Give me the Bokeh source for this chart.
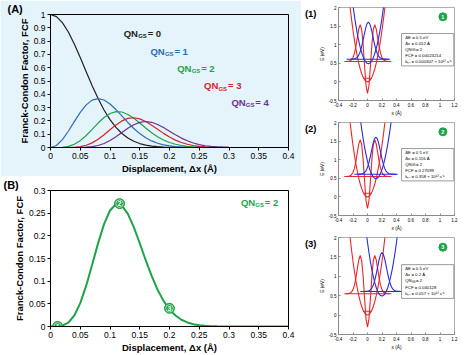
from bokeh.plotting import figure
from bokeh.layouts import row, column
from bokeh.models import Label, NumeralTickFormatter, FixedTicker, Range1d, LinearAxis
from bokeh.core.properties import value
from bokeh.embed import file_html
from bokeh.resources import INLINE

FONT = "Liberation Sans"
BG = "#e5f3fb"
QN_COLORS = ["#231f20", "#2c6db4", "#1fa34a", "#d2232a", "#6a3291"]
GREEN = "#1fa34a"
RED = "#e8262a"
BLUE = "#2a2ae0"

# ---------------- data: Franck-Condon factors vs displacement ----------------
dx = [0.00, 0.01, 0.02, 0.03, 0.04, 0.05, 0.06, 0.07, 0.08, 0.09, 0.10,
      0.11, 0.12, 0.13, 0.14, 0.15, 0.16, 0.17, 0.18, 0.19, 0.20,
      0.21, 0.22, 0.23, 0.24, 0.25, 0.26, 0.27, 0.28, 0.29, 0.30, 0.35, 0.40]
fcf_qn0 = [1.0, 0.9845, 0.9394, 0.8688, 0.7788, 0.6767, 0.5698, 0.4651, 0.3679, 0.2821, 0.2096,
           0.1510, 0.1054, 0.0713, 0.0468, 0.0297, 0.0183, 0.0109, 0.0063, 0.0036, 0.0019,
           0.0010, 0.0005, 0.0003, 0.0001, 0.0001, 0, 0, 0, 0, 0, 0, 0]
fcf_qn1 = [0, 0.0154, 0.0587, 0.1222, 0.1947, 0.2643, 0.3205, 0.3561, 0.3679, 0.3570, 0.3275,
           0.2854, 0.2372, 0.1883, 0.1432, 0.1045, 0.0733, 0.0494, 0.0321, 0.0200, 0.0121,
           0.0070, 0.0039, 0.0022, 0.0011, 0.0006, 0.0003, 0.0001, 0, 0, 0, 0, 0]
fcf_qn2 = [0, 0.0001, 0.0018, 0.0086, 0.0243, 0.0516, 0.0901, 0.1363, 0.1839, 0.2259, 0.2559,
           0.2698, 0.2668, 0.2486, 0.2193, 0.1837, 0.1465, 0.1115, 0.0811, 0.0565, 0.0377,
           0.0242, 0.0149, 0.0089, 0.0050, 0.0027, 0.0014, 0.0007, 0.0004, 0.0002, 0.0001, 0, 0]
fcf_qn3 = [0, 0, 0, 0.0004, 0.0020, 0.0067, 0.0169, 0.0348, 0.0613, 0.0953, 0.1333,
           0.1700, 0.2001, 0.2188, 0.2239, 0.2153, 0.1954, 0.1679, 0.1369, 0.1062, 0.0785,
           0.0556, 0.0375, 0.0245, 0.0150, 0.0089, 0.0050, 0.0028, 0.0015, 0.0008, 0.0004, 0, 0]
fcf_qn4 = [0, 0, 0, 0, 0.0001, 0.0007, 0.0024, 0.0067, 0.0153, 0.0302, 0.0521,
           0.0804, 0.1126, 0.1445, 0.1714, 0.1892, 0.1954, 0.1895, 0.1733, 0.1497, 0.1227,
           0.0958, 0.0708, 0.0506, 0.0338, 0.0217, 0.0133, 0.0080, 0.0045, 0.0025, 0.0013, 0.0001, 0]
fcf_series = [fcf_qn0, fcf_qn1, fcf_qn2, fcf_qn3, fcf_qn4]
qn_values = ["0", "1", "2", "3", "4"]

fcf_xticks = [0, 0.05, 0.1, 0.15, 0.2, 0.25, 0.3, 0.35, 0.4]
fcf_yticks_a = [0, 0.1, 0.2, 0.3, 0.4, 0.5, 0.6, 0.7, 0.8, 0.9, 1]
fcf_yticks_b = [0, 0.05, 0.1, 0.15, 0.2, 0.25, 0.3]

# ---------------- data: three selected cases (QN_GS = 2) ----------------
case_ids = ["1", "2", "3"]
case_dx = [0.012, 0.116, 0.2]
case_fcf = [0.00023214, 0.27099, 0.040128]
case_fcf_text = ["0.00023214", "0.27099", "0.040128"]
case_dx_text = ["0.012", "0.116", "0.2"]
case_k_text = ["0.000307", "0.358", "0.057"]

# ---------------- data: potential curves and wavefunctions ----------------
wave_x = [-0.30, -0.28, -0.26, -0.24, -0.22, -0.20, -0.18, -0.16, -0.14, -0.12, -0.10,
          -0.08, -0.06, -0.04, -0.02, 0.0, 0.02, 0.04, 0.06, 0.08, 0.10,
          0.12, 0.14, 0.16, 0.18, 0.20, 0.22, 0.24, 0.26, 0.28, 0.30]
red_psi = [0.550, 0.552, 0.556, 0.567, 0.595, 0.657, 0.772, 0.956, 1.196, 1.427, 1.536,
           1.404, 0.995, 0.414, -0.103, -0.310, -0.103, 0.414, 0.995, 1.404, 1.536,
           1.427, 1.196, 0.956, 0.772, 0.657, 0.595, 0.567, 0.556, 0.552, 0.550]
blue_psi = [0.610, 0.610, 0.610, 0.611, 0.612, 0.617, 0.627, 0.650, 0.695, 0.773, 0.894,
            1.057, 1.245, 1.427, 1.561, 1.610, 1.561, 1.427, 1.245, 1.057, 0.894,
            0.773, 0.695, 0.650, 0.627, 0.617, 0.612, 0.611, 0.610, 0.610, 0.610]
pot_x = [-0.26, -0.24, -0.22, -0.20, -0.18, -0.16, -0.14, -0.12, -0.10, -0.08, -0.06, -0.04, -0.02,
         0.0, 0.02, 0.04, 0.06, 0.08, 0.10, 0.12, 0.14, 0.16, 0.18, 0.20, 0.22, 0.24, 0.26]
red_pot = [2.346, 1.999, 1.679, 1.388, 1.124, 0.888, 0.680, 0.500, 0.347, 0.222, 0.125, 0.056, 0.014,
           0.0, 0.014, 0.056, 0.125, 0.222, 0.347, 0.500, 0.680, 0.888, 1.124, 1.388, 1.679, 1.999, 2.346]
blue_pot = [2.836, 2.489, 2.169, 1.878, 1.614, 1.378, 1.170, 0.990, 0.837, 0.712, 0.615, 0.546, 0.504,
            0.490, 0.504, 0.546, 0.615, 0.712, 0.837, 0.990, 1.170, 1.378, 1.614, 1.878, 2.169, 2.489, 2.836]
red_level = 0.55
red_level_span = [-0.32, 0.33]
red_low_level = 0.1
red_low_span = [-0.06, 0.06]
blue_level = 0.61
blue_level_span = [-0.24, 0.28]
e_ticks = [-0.5, 0, 0.5, 1, 1.5, 2]
x_ticks = [-0.4, -0.2, 0, 0.2, 0.4, 0.6, 0.8, 1, 1.2]


def style_axes(p, tick_size, label_size, color="black", bold=True, tick_in=0, tick_out=3,
               lstand=2, astand=1):
    for ax in p.axis:
        ax.axis_line_color = color
        ax.major_tick_line_color = color
        ax.minor_tick_line_color = None
        ax.major_tick_in = tick_in
        ax.major_tick_out = tick_out
        ax.major_label_text_font = FONT
        ax.major_label_text_font_size = tick_size
        ax.major_label_text_color = "black"
        ax.major_label_standoff = lstand
        ax.axis_label_text_font = FONT
        ax.axis_label_text_font_size = label_size
        ax.axis_label_text_font_style = "bold" if bold else "normal"
        ax.axis_label_text_color = "black"
        ax.axis_label_standoff = astand
    p.grid.visible = False


def panel_tag(p, y, text, size):
    """Panel number drawn as the single tick label of an outer left axis."""
    ax = LinearAxis(ticker=FixedTicker(ticks=[y]), major_label_overrides={y: text},
                    axis_line_color=None, major_tick_line_color=None, minor_tick_line_color=None,
                    major_tick_in=0, major_tick_out=0, major_label_standoff=0,
                    major_label_text_font=FONT, major_label_text_font_size=size,
                    major_label_text_font_style="bold", major_label_text_color="black")
    p.add_layout(ax, "left")


def title_tag(p, text, shift):
    p.title.text = text
    p.title.align = "left"
    p.title.offset = shift
    p.title.standoff = 0
    p.title.text_font = FONT
    p.title.text_font_size = "11px"
    p.title.text_font_style = "bold"
    p.title.text_color = "black"


def label(p, x, y, text, size, color="black", bold=True, align="left", xo=0, yo=0):
    p.add_layout(Label(x=x, y=y, text=text, text_font=FONT, text_font_size=size,
                       text_font_style="bold" if bold else "normal", text_color=color,
                       text_align=align, text_baseline="middle", x_offset=xo, y_offset=yo))


def qn_label(p, x, y, n, color, size=9.5, bold=True):
    s = size
    label(p, x, y, "QN", f"{s}px", color, bold)
    label(p, x, y, "GS", f"{s*0.63:.2f}px", color, bold, xo=s * 1.52, yo=-s * 0.3)
    label(p, x, y, "= " + n, f"{s}px", color, bold, xo=s * 2.52)


# ---------------- Panel A ----------------
pA = figure(width=301, height=176, x_range=Range1d(0, 0.4), y_range=Range1d(0, 1),
            output_backend="svg", toolbar_location=None,
            min_border_left=46, min_border_right=13, min_border_top=0, min_border_bottom=26,
            background_fill_color=BG, border_fill_color=BG, outline_line_color="black")
for series, col in zip(fcf_series, QN_COLORS):
    pA.line(dx, series, line_color=col, line_width=1.2)
style_axes(pA, "8.5px", "9.5px", lstand=2, astand=1)
pA.xaxis.ticker = FixedTicker(ticks=fcf_xticks)
pA.yaxis.ticker = FixedTicker(ticks=fcf_yticks_a)
pA.xaxis.formatter = NumeralTickFormatter(format="0.[00]")
pA.yaxis.formatter = NumeralTickFormatter(format="0.[0]")
pA.xaxis.axis_label = "Displacement, Δx (Å)"
pA.yaxis.axis_label = "Franck-Condon Factor, FCF"
qn_lx = [0.123, 0.168, 0.213, 0.258, 0.304]
qn_ly = [0.86, 0.725, 0.595, 0.465, 0.34]
for n, col, lx, ly in zip(qn_values, QN_COLORS, qn_lx, qn_ly):
    qn_label(pA, lx, ly, n, col)
title_tag(pA, "(A)", -43)

# ---------------- Panel B ----------------
pB = figure(width=301, height=179, x_range=Range1d(0, 0.4), y_range=Range1d(0, 0.3),
            output_backend="svg", toolbar_location=None,
            min_border_left=50, min_border_right=11, min_border_top=11, min_border_bottom=27,
            background_fill_color="white", border_fill_color="white", outline_line_color="black")
pB.line(dx, fcf_qn2, line_color=GREEN, line_width=2)
pB.scatter(case_dx, case_fcf, size=10, fill_color=GREEN, line_color=GREEN)
pB.scatter(case_dx, case_fcf, size=7.5, fill_color=None, line_color="white", line_width=0.6)
pB.text(case_dx, case_fcf, text=case_ids, text_color="white", text_font=value(FONT),
        text_font_size="7px", text_font_style="bold", text_align="center", text_baseline="middle")
style_axes(pB, "8.5px", "9.5px", lstand=2, astand=1)
pB.xaxis.ticker = FixedTicker(ticks=fcf_xticks)
pB.yaxis.ticker = FixedTicker(ticks=fcf_yticks_b)
pB.xaxis.formatter = NumeralTickFormatter(format="0.[00]")
pB.yaxis.formatter = NumeralTickFormatter(format="0.[00]")
pB.xaxis.axis_label = "Displacement, Δx (Å)"
pB.yaxis.axis_label = "Franck-Condon Factor, FCF"
qn_label(pB, 0.32, 0.2745, qn_values[2], GREEN)
title_tag(pB, "(B)", -47)

# ---------------- Panels 1-3 ----------------
right_heights = [118, 115, 122]
right_top = [7, 4, 4]
right_bottom = [14, 14, 21]
right_figs = []
for i in range(3):
    d = case_dx[i]
    p = figure(width=173, height=right_heights[i], x_range=Range1d(-0.4, 1.2), y_range=Range1d(-0.5, 2),
               output_backend="svg", toolbar_location=None,
               min_border_left=28, min_border_right=20, min_border_top=right_top[i],
               min_border_bottom=right_bottom[i],
               background_fill_color="white", border_fill_color="white",
               outline_line_color="#9a9a9a", outline_line_width=0.8)
    bx_pot = [x + d for x in pot_x]
    bx_wave = [x + d for x in wave_x]
    p.line(pot_x, red_pot, line_color=RED, line_width=1.1)
    p.line(wave_x, red_psi, line_color=RED, line_width=1.1)
    p.line(red_level_span, [red_level, red_level], line_color=RED, line_width=1.1)
    p.line(red_low_span, [red_low_level, red_low_level], line_color=RED, line_width=1.1)
    p.line(bx_pot, blue_pot, line_color=BLUE, line_width=1.1)
    p.line(bx_wave, blue_psi, line_color=BLUE, line_width=1.1)
    p.line([blue_level_span[0] + d, blue_level_span[1] + d], [blue_level, blue_level],
           line_color=BLUE, line_width=1.1)
    # info box
    p.quad(left=0.47, right=1.19, bottom=0.43, top=1.30, fill_color="white",
           line_color="#707070", line_width=0.7)
    ly = [1.20, 1.04, 0.88, 0.72, 0.55]
    label(p, 0.52, ly[0], "ΔE = 0.5 eV", "4.3px", bold=False)
    label(p, 0.52, ly[1], "Δx = " + case_dx_text[i] + " Å", "4.3px", bold=False)
    qn_label(p, 0.52, ly[2], qn_values[2], "black", size=4.3, bold=False)
    label(p, 0.52, ly[3], "FCF = " + case_fcf_text[i], "4.3px", bold=False)
    label(p, 0.52, ly[4], "kₙᵣ = " + case_k_text[i] + " × 10¹³ s⁻¹", "4.3px", bold=False)
    # badge
    p.scatter([1.04], [1.75], size=8, fill_color=GREEN, line_color=GREEN)
    p.text([1.04], [1.75], text=[case_ids[i]], text_color="white", text_font=value(FONT),
           text_font_size="5.5px", text_font_style="bold", text_align="center", text_baseline="middle")
    style_axes(p, "4.5px", "4.8px", color="#8a8a8a", bold=False, tick_in=2, tick_out=0,
               lstand=2, astand=1)
    p.xaxis.ticker = FixedTicker(ticks=x_ticks)
    p.yaxis.ticker = FixedTicker(ticks=e_ticks)
    p.xaxis.formatter = NumeralTickFormatter(format="0.[0]")
    p.yaxis.formatter = NumeralTickFormatter(format="0.[0]")
    p.xaxis.axis_label = "x (Å)"
    p.yaxis.axis_label = "E (eV)"
    panel_tag(p, 1.85, "(" + case_ids[i] + ")", "9.5px")
    right_figs.append(p)

layout = row(column(pA, pB, spacing=0), column(*right_figs, spacing=0), spacing=0)
open("out.html", "w").write(file_html(layout, INLINE))
